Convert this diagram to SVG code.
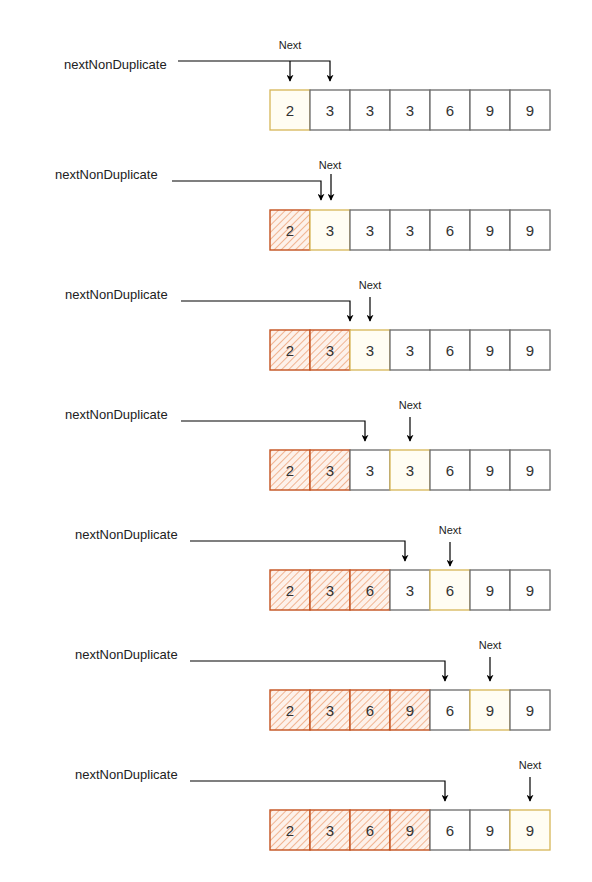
<svg xmlns="http://www.w3.org/2000/svg" width="592" height="882" viewBox="0 0 592 882">
<defs>
<marker id="ah" viewBox="0 0 10 10" refX="9" refY="5" markerWidth="7" markerHeight="7" orient="auto" markerUnits="userSpaceOnUse"><path d="M0,0 L10,5 L0,10 L3,5 z" fill="#000"/></marker>
<pattern id="hatch" width="5" height="5" patternUnits="userSpaceOnUse" patternTransform="rotate(45)"><rect width="5" height="5" fill="#fdf1ea"/><line x1="0" y1="0" x2="0" y2="5" stroke="#eea67d" stroke-width="1.6"/></pattern>
</defs>
<style>
.lbl{font-family:"Liberation Sans",Arial,sans-serif;font-size:13px;fill:#222}
.nx{font-family:"Liberation Sans",Arial,sans-serif;font-size:11px;fill:#222;text-anchor:middle}
.num{font-family:"Liberation Sans",Arial,sans-serif;font-size:15px;fill:#333;text-anchor:middle}
.w{fill:#fff;stroke:#6b6b6b;stroke-width:1.3}
.y{fill:#fffdf3;stroke:#d6b656;stroke-width:1.3}
.r{fill:url(#hatch);stroke:#c4521f;stroke-width:1.4}
.ln{fill:none;stroke:#000;stroke-width:1.2;marker-end:url(#ah)}
</style>
<rect width="592" height="882" fill="#fff"/>

<g id="labels">
<text class="lbl" x="64" y="69">nextNonDuplicate</text>
<text class="lbl" x="55" y="179">nextNonDuplicate</text>
<text class="lbl" x="65" y="299">nextNonDuplicate</text>
<text class="lbl" x="65" y="419">nextNonDuplicate</text>
<text class="lbl" x="75" y="539">nextNonDuplicate</text>
<text class="lbl" x="75" y="659">nextNonDuplicate</text>
<text class="lbl" x="75" y="779">nextNonDuplicate</text>
<text class="nx" x="290" y="49">Next</text>
<text class="nx" x="330" y="169">Next</text>
<text class="nx" x="370" y="289">Next</text>
<text class="nx" x="410" y="409">Next</text>
<text class="nx" x="450" y="534">Next</text>
<text class="nx" x="490" y="649">Next</text>
<text class="nx" x="530" y="769">Next</text>
</g>

<g id="connectors">
<path class="ln" d="M178,61 H330 V81"/>
<path class="ln" d="M290,61 V81"/>
<path class="ln" d="M172,181 H321 V200"/>
<path class="ln" d="M331,174 V200"/>
<path class="ln" d="M181,301 H350 V321"/>
<path class="ln" d="M370,297 V321"/>
<path class="ln" d="M181,421 H365 V441"/>
<path class="ln" d="M410,417 V441"/>
<path class="ln" d="M190,541 H405 V561"/>
<path class="ln" d="M450,542 V566"/>
<path class="ln" d="M190,661 H445 V681"/>
<path class="ln" d="M490,657 V681"/>
<path class="ln" d="M190,781 H445 V801"/>
<path class="ln" d="M530,777 V801"/>
</g>

<g id="row1">
<rect class="y" x="270" y="90" width="40" height="40"/><text class="num" x="290" y="115.5">2</text>
<rect class="w" x="310" y="90" width="40" height="40"/><text class="num" x="330" y="115.5">3</text>
<rect class="w" x="350" y="90" width="40" height="40"/><text class="num" x="370" y="115.5">3</text>
<rect class="w" x="390" y="90" width="40" height="40"/><text class="num" x="410" y="115.5">3</text>
<rect class="w" x="430" y="90" width="40" height="40"/><text class="num" x="450" y="115.5">6</text>
<rect class="w" x="470" y="90" width="40" height="40"/><text class="num" x="490" y="115.5">9</text>
<rect class="w" x="510" y="90" width="40" height="40"/><text class="num" x="530" y="115.5">9</text>
</g>

<g id="row2">
<rect class="r" x="270" y="210" width="40" height="40"/><text class="num" x="290" y="235.5">2</text>
<rect class="y" x="310" y="210" width="40" height="40"/><text class="num" x="330" y="235.5">3</text>
<rect class="w" x="350" y="210" width="40" height="40"/><text class="num" x="370" y="235.5">3</text>
<rect class="w" x="390" y="210" width="40" height="40"/><text class="num" x="410" y="235.5">3</text>
<rect class="w" x="430" y="210" width="40" height="40"/><text class="num" x="450" y="235.5">6</text>
<rect class="w" x="470" y="210" width="40" height="40"/><text class="num" x="490" y="235.5">9</text>
<rect class="w" x="510" y="210" width="40" height="40"/><text class="num" x="530" y="235.5">9</text>
</g>

<g id="row3">
<rect class="r" x="270" y="330" width="40" height="40"/><text class="num" x="290" y="355.5">2</text>
<rect class="r" x="310" y="330" width="40" height="40"/><text class="num" x="330" y="355.5">3</text>
<rect class="y" x="350" y="330" width="40" height="40"/><text class="num" x="370" y="355.5">3</text>
<rect class="w" x="390" y="330" width="40" height="40"/><text class="num" x="410" y="355.5">3</text>
<rect class="w" x="430" y="330" width="40" height="40"/><text class="num" x="450" y="355.5">6</text>
<rect class="w" x="470" y="330" width="40" height="40"/><text class="num" x="490" y="355.5">9</text>
<rect class="w" x="510" y="330" width="40" height="40"/><text class="num" x="530" y="355.5">9</text>
</g>

<g id="row4">
<rect class="r" x="270" y="450" width="40" height="40"/><text class="num" x="290" y="475.5">2</text>
<rect class="r" x="310" y="450" width="40" height="40"/><text class="num" x="330" y="475.5">3</text>
<rect class="w" x="350" y="450" width="40" height="40"/><text class="num" x="370" y="475.5">3</text>
<rect class="y" x="390" y="450" width="40" height="40"/><text class="num" x="410" y="475.5">3</text>
<rect class="w" x="430" y="450" width="40" height="40"/><text class="num" x="450" y="475.5">6</text>
<rect class="w" x="470" y="450" width="40" height="40"/><text class="num" x="490" y="475.5">9</text>
<rect class="w" x="510" y="450" width="40" height="40"/><text class="num" x="530" y="475.5">9</text>
</g>

<g id="row5">
<rect class="r" x="270" y="570" width="40" height="40"/><text class="num" x="290" y="595.5">2</text>
<rect class="r" x="310" y="570" width="40" height="40"/><text class="num" x="330" y="595.5">3</text>
<rect class="r" x="350" y="570" width="40" height="40"/><text class="num" x="370" y="595.5">6</text>
<rect class="w" x="390" y="570" width="40" height="40"/><text class="num" x="410" y="595.5">3</text>
<rect class="y" x="430" y="570" width="40" height="40"/><text class="num" x="450" y="595.5">6</text>
<rect class="w" x="470" y="570" width="40" height="40"/><text class="num" x="490" y="595.5">9</text>
<rect class="w" x="510" y="570" width="40" height="40"/><text class="num" x="530" y="595.5">9</text>
</g>

<g id="row6">
<rect class="r" x="270" y="690" width="40" height="40"/><text class="num" x="290" y="715.5">2</text>
<rect class="r" x="310" y="690" width="40" height="40"/><text class="num" x="330" y="715.5">3</text>
<rect class="r" x="350" y="690" width="40" height="40"/><text class="num" x="370" y="715.5">6</text>
<rect class="r" x="390" y="690" width="40" height="40"/><text class="num" x="410" y="715.5">9</text>
<rect class="w" x="430" y="690" width="40" height="40"/><text class="num" x="450" y="715.5">6</text>
<rect class="y" x="470" y="690" width="40" height="40"/><text class="num" x="490" y="715.5">9</text>
<rect class="w" x="510" y="690" width="40" height="40"/><text class="num" x="530" y="715.5">9</text>
</g>

<g id="row7">
<rect class="r" x="270" y="810" width="40" height="40"/><text class="num" x="290" y="835.5">2</text>
<rect class="r" x="310" y="810" width="40" height="40"/><text class="num" x="330" y="835.5">3</text>
<rect class="r" x="350" y="810" width="40" height="40"/><text class="num" x="370" y="835.5">6</text>
<rect class="r" x="390" y="810" width="40" height="40"/><text class="num" x="410" y="835.5">9</text>
<rect class="w" x="430" y="810" width="40" height="40"/><text class="num" x="450" y="835.5">6</text>
<rect class="w" x="470" y="810" width="40" height="40"/><text class="num" x="490" y="835.5">9</text>
<rect class="y" x="510" y="810" width="40" height="40"/><text class="num" x="530" y="835.5">9</text>
</g>
</svg>
